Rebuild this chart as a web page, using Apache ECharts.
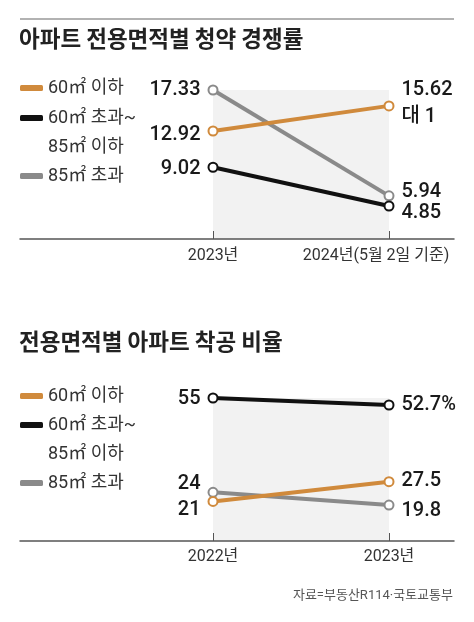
<!DOCTYPE html>
<html><head><meta charset="utf-8">
<script src="https://cdn.jsdelivr.net/npm/echarts@6/dist/echarts.min.js"></script>
<style>html,body{margin:0;padding:0;background:#fff}#c{width:474px;height:622px}</style>
</head><body><div id="c"></div>
<script>
// ---- data ----
const title1 = '아파트 전용면적별 청약 경쟁률';
const title2 = '전용면적별 아파트 착공 비율';
const source = '자료=부동산R114·국토교통부';
const seriesNames = ['60㎡ 이하', '60㎡ 초과~85㎡ 이하', '85㎡ 초과'];
const cats1 = ['2023년', '2024년(5월 2일 기준)'];
const small1 = [12.92, 15.62];
const mid1 = [9.02, 4.85];
const large1 = [17.33, 5.94];
const cats2 = ['2022년', '2023년'];
const small2 = [21, 27.5];
const mid2 = [55, 52.7];
const large2 = [24, 19.8];
const endSuffix1 = ['\n대 1', '', ''];   // suffix on last label per series (chart 1)
const endSuffix2 = ['', '%', ''];        // chart 2

// ---- style ----
const COLORS = ['#d08a3c', '#111111', '#8a8a8a'];
const NUM_FONT = 'Roboto, "Noto Sans CJK KR", sans-serif';
const KR_FONT = '"Noto Sans CJK KR", sans-serif';
// label offsets [first point, last point] per series
const offs1 = [[[0, 4], [0, -2]], [[0, 2], [0, 7]], [[0, 0], [0, -4]]];
const offs2 = [[[0, 9], [0, -1]], [[0, 1], [0, 0]], [[0, -8], [0, 6]]];

function mkSeries(idx, vals, axisIdx, offs, suffixes) {
  return {
    name: seriesNames[idx],
    type: 'line',
    xAxisIndex: axisIdx, yAxisIndex: axisIdx,
    z: 10 - idx,
    symbol: 'circle', symbolSize: 9,
    lineStyle: { color: COLORS[idx], width: 4 },
    itemStyle: { color: '#fff', borderColor: COLORS[idx], borderWidth: 2 },
    emphasis: { disabled: true },
    animation: false,
    data: vals.map((v, i) => ({
      value: v,
      label: {
        show: true,
        position: i === 0 ? 'left' : 'right',
        distance: 7,
        offset: offs[idx][i],
        formatter: () => String(v) + (i === vals.length - 1 ? suffixes[idx] : ''),
        fontFamily: NUM_FONT, fontSize: 20, fontWeight: 500, color: '#1a1a1a', lineHeight: 27,
        align: i === 0 ? 'right' : 'left'
      }
    }))
  };
}

function mkLegend(idx, top) {
  return {
    left: 20, top: top, orient: 'vertical', padding: 0,
    icon: 'roundRect', itemWidth: 23, itemHeight: 6,
    selectedMode: false,
    data: [{ name: seriesNames[idx], itemStyle: { color: COLORS[idx], borderWidth: 0 } }],
    formatter: n => (n.indexOf('~') >= 0 ? '\n' + n.replace('~', '~\n') : n),
    textStyle: { fontFamily: NUM_FONT, fontSize: 18, color: '#333', lineHeight: 29 }
  };
}

const chart = echarts.init(document.getElementById('c'), null, { renderer: 'canvas' });
const catAxis = (cats, gi, margin, lastPad) => ({
  type: 'category', gridIndex: gi, data: cats.map((c, i) => (i === cats.length - 1 && lastPad ?
      { value: c, textStyle: { padding: lastPad } } : c)),
  boundaryGap: false,
  axisLine: { show: false },
  axisTick: { show: true, inside: true, length: 8, lineStyle: { color: '#555', width: 1 } },
  axisLabel: { interval: 0, hideOverlap: false, margin: margin, fontFamily: NUM_FONT, fontSize: 16, color: '#333' },
  splitLine: { show: false }
});
const lineAxis = gi => ({
  type: 'value', gridIndex: gi, min: 0, max: 1,
  axisLine: { show: true, lineStyle: { color: '#555', width: 1.5 } },
  axisTick: { show: false }, axisLabel: { show: false }, splitLine: { show: false }
});
const hiddenY = (gi, min, max) => ({
  type: 'value', gridIndex: gi, min: min, max: max,
  axisLine: { show: false }, axisTick: { show: false }, axisLabel: { show: false }, splitLine: { show: false }
});

chart.setOption({
  backgroundColor: '#fff',
  animation: false,
  title: [
    { text: title1, left: 19, top: 27, padding: 0, textStyle: { fontFamily: KR_FONT, fontSize: 22.5, fontWeight: 'bold', color: '#222' } },
    { text: title2, left: 19, top: 330, padding: 0, textStyle: { fontFamily: KR_FONT, fontSize: 22.5, fontWeight: 'bold', color: '#222' } },
    { text: source, right: 21, top: 589, padding: 0, textStyle: { fontFamily: NUM_FONT, fontSize: 13, fontWeight: 'normal', color: '#555' } }
  ],
  legend: [
    mkLegend(0, 73.5), mkLegend(1, 74.5), mkLegend(2, 161.5),
    mkLegend(0, 381.5), mkLegend(1, 381.5), mkLegend(2, 468.5)
  ],
  grid: [
    { left: 213, right: 85, top: 90, height: 149, show: true, backgroundColor: '#f2f2f2', borderWidth: 0 },
    { left: 20, right: 20, top: 90, height: 149 },
    { left: 213, right: 85, top: 398, height: 143, show: true, backgroundColor: '#f2f2f2', borderWidth: 0 },
    { left: 20, right: 20, top: 398, height: 143 }
  ],
  xAxis: [catAxis(cats1, 0, 9, [0, 26, 0, 0]), lineAxis(1), catAxis(cats2, 2, 8, null), lineAxis(3)],
  yAxis: [hiddenY(0, 1.3, 17.33), hiddenY(1, 0, 1), hiddenY(2, 8, 55), hiddenY(3, 0, 1)],
  graphic: [{
    type: 'line', shape: { x1: 20, y1: 19, x2: 454, y2: 19 },
    style: { stroke: '#999', lineWidth: 1.5 }, silent: true
  }],
  series: [
    mkSeries(2, large1, 0, offs1, endSuffix1),
    mkSeries(1, mid1, 0, offs1, endSuffix1),
    mkSeries(0, small1, 0, offs1, endSuffix1),
    mkSeries(2, large2, 2, offs2, endSuffix2),
    mkSeries(1, mid2, 2, offs2, endSuffix2),
    mkSeries(0, small2, 2, offs2, endSuffix2)
  ]
});
</script></body></html>
